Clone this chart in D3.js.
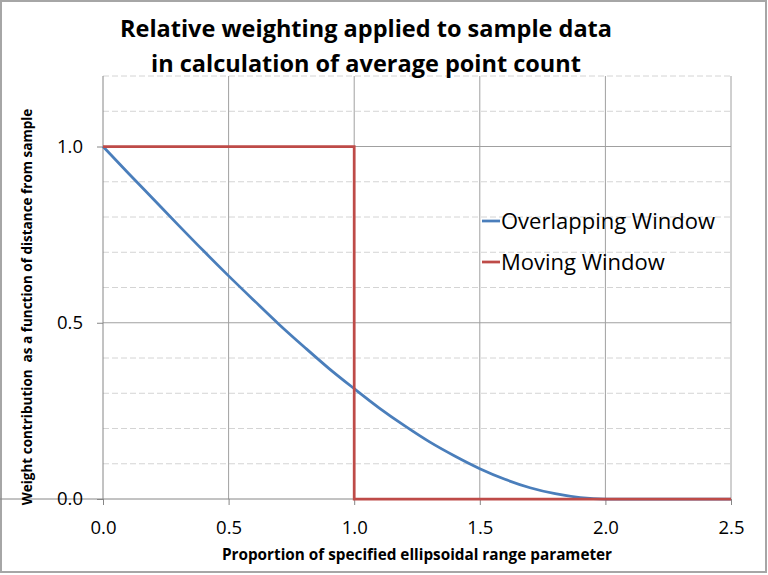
<!DOCTYPE html>
<html>
<head>
<meta charset="utf-8">
<script src="https://cdn.jsdelivr.net/npm/d3@7"></script>
<style>
  body { margin: 0; background: #fff; }
  svg { display: block; font-family: "Open Sans", Lato, sans-serif; }
</style>
</head>
<body>
<script>
// Width and height
var w = 768;
var h = 575;
var margin = {top: 76, right: 37, bottom: 76, left: 103};

// Overlapping window (at 0.1 steps)
var overlapX = [0.0, 0.1, 0.2, 0.3, 0.4, 0.5, 0.6, 0.7, 0.8, 0.9, 1.0,
                1.1, 1.2, 1.3, 1.4, 1.5, 1.6, 1.7, 1.8, 1.9, 2.0, 2.5];
var overlapY = [1.000, 0.925, 0.851, 0.777, 0.704, 0.633, 0.564, 0.496, 0.432, 0.370, 0.313,
                0.258, 0.208, 0.162, 0.122, 0.086, 0.056, 0.032, 0.015, 0.004, 0.000, 0.000];

// Moving window (step)
var movingX = [0.0, 1.0, 1.0, 2.5];
var movingY = [1.0, 1.0, 0.0, 0.0];

var xTicks = [0.0, 0.5, 1.0, 1.5, 2.0, 2.5];
var yTicks = [0.0, 0.5, 1.0];
var yMinor = [0.1, 0.2, 0.3, 0.4, 0.6, 0.7, 0.8, 0.9, 1.1, 1.2];

var seriesNames = ["Overlapping Window", "Moving Window"];
var seriesColors = ["#4a7ebb", "#be4b48"];

var xScale = d3.scaleLinear()
                .domain([0, 2.5])
                .range([margin.left, w - margin.right]);

var yScale = d3.scaleLinear()
                .domain([0, 1.2])
                .range([h - margin.bottom, margin.top]);

// Create SVG element
var svg = d3.select("body")
            .append("svg")
            .attr("width", w)
            .attr("height", h);

// outer frame
svg.append("rect")
   .attr("x", 1).attr("y", 1)
   .attr("width", w - 3).attr("height", h - 4)
   .attr("fill", "#fff")
   .attr("stroke", "#a6a6a6")
   .attr("stroke-width", 2);

// minor dashed gridlines
svg.selectAll("line.minor")
   .data(yMinor)
   .enter()
   .append("line")
   .attr("class", "minor")
   .attr("x1", xScale(0))
   .attr("x2", xScale(2.5))
   .attr("y1", function(d) { return yScale(d); })
   .attr("y2", function(d) { return yScale(d); })
   .attr("stroke", "#d4d4d4")
   .attr("stroke-width", 1)
   .attr("stroke-dasharray", "6,3");

// major gridlines
svg.selectAll("line.hgrid")
   .data(yTicks.slice(1))
   .enter()
   .append("line")
   .attr("class", "hgrid")
   .attr("x1", xScale(0))
   .attr("x2", xScale(2.5))
   .attr("y1", function(d) { return yScale(d); })
   .attr("y2", function(d) { return yScale(d); })
   .attr("stroke", "#a0a0a0")
   .attr("stroke-width", 1);

svg.selectAll("line.vgrid")
   .data(xTicks.slice(1))
   .enter()
   .append("line")
   .attr("class", "vgrid")
   .attr("x1", function(d) { return xScale(d); })
   .attr("x2", function(d) { return xScale(d); })
   .attr("y1", yScale(0))
   .attr("y2", yScale(1.2))
   .attr("stroke", "#a0a0a0")
   .attr("stroke-width", 1);

// axes
var xAxis = d3.axisBottom(xScale)
              .tickValues(xTicks)
              .tickFormat(d3.format(".1f"))
              .tickSize(6)
              .tickPadding(16);

var yAxis = d3.axisLeft(yScale)
              .tickValues(yTicks)
              .tickFormat(d3.format(".1f"))
              .tickSize(6)
              .tickPadding(14);

var gx = svg.append("g")
   .attr("transform", "translate(0," + yScale(0) + ")")
   .call(xAxis);

var gy = svg.append("g")
   .attr("transform", "translate(" + xScale(0) + ",0)")
   .call(yAxis);

[gx, gy].forEach(function(g) {
    g.select(".domain").attr("stroke", "#868686").attr("stroke-width", 1);
    g.selectAll(".tick line").attr("stroke", "#868686");
    g.selectAll(".tick text")
     .attr("font-family", "'Open Sans', sans-serif")
     .attr("font-size", "18.5px")
     .attr("fill", "#000");
});
gy.select(".domain").attr("d", "M0," + yScale(1.2) + "V" + yScale(0));
gx.select(".domain").attr("d", "M-6,0H" + (xScale(2.5) - xScale(0)));

// lines
var line = d3.line()
             .x(function(d) { return xScale(d[0]); })
             .y(function(d) { return yScale(d[1]); });

svg.append("path")
   .datum(d3.zip(overlapX, overlapY))
   .attr("fill", "none")
   .attr("stroke", seriesColors[0])
   .attr("stroke-width", 2.75)
   .attr("d", line.curve(d3.curveMonotoneX));

svg.append("path")
   .datum(d3.zip(movingX, movingY))
   .attr("fill", "none")
   .attr("stroke", seriesColors[1])
   .attr("stroke-width", 2.75)
   .attr("d", line.curve(d3.curveLinear));

// legend
var legend = svg.selectAll("g.legend")
   .data(seriesNames)
   .enter()
   .append("g")
   .attr("class", "legend")
   .attr("transform", function(d, i) { return "translate(482," + (221 + i * 41) + ")"; });

legend.append("line")
   .attr("x1", 0).attr("x2", 18)
   .attr("y1", 0).attr("y2", 0)
   .attr("stroke", function(d, i) { return seriesColors[i]; })
   .attr("stroke-width", 2.75);

legend.append("text")
   .text(function(d) { return d; })
   .attr("x", 19)
   .attr("y", 0)
   .attr("dy", "0.36em")
   .attr("font-size", "22px")
   .attr("fill", "#000");

// title
svg.selectAll("text.title")
   .data(["Relative weighting applied to sample data", "in calculation of average point count"])
   .enter()
   .append("text")
   .attr("class", "title")
   .text(function(d) { return d; })
   .attr("x", 366)
   .attr("y", function(d, i) { return 37 + i * 35; })
   .attr("text-anchor", "middle")
   .attr("font-size", "23.5px")
   .attr("font-weight", "bold")
   .attr("fill", "#000");

// axis titles
svg.append("text")
   .text("Proportion of specified ellipsoidal range parameter")
   .attr("x", (xScale(0) + xScale(2.5)) / 2)
   .attr("y", 560)
   .attr("text-anchor", "middle")
   .attr("font-size", "15.3px")
   .attr("font-weight", "bold")
   .attr("fill", "#000");

svg.append("text")
   .text("Weight contribution\u00a0 as a function of distance from sample")
   .attr("transform", "translate(32,307) rotate(-90)")
   .attr("text-anchor", "middle")
   .attr("font-size", "13.5px")
   .attr("font-weight", "bold")
   .attr("fill", "#000");
</script>
</body>
</html>
